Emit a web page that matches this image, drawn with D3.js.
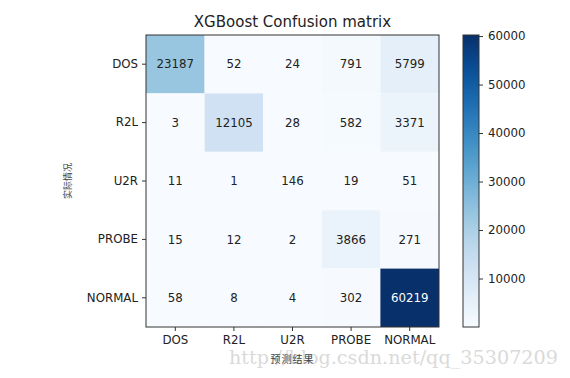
<!DOCTYPE html>
<html>
<head>
<meta charset="utf-8">
<script src="https://cdn.jsdelivr.net/npm/d3@7"></script>
<style>
  body { margin: 0; background: #fff; }
  svg text { font-family: "DejaVu Sans", sans-serif; }
</style>
</head>
<body>
<div class="cm_chart"></div>
<script>
// confusion matrix data
const classes = ["DOS", "R2L", "U2R", "PROBE", "NORMAL"];
const row_DOS = [23187, 52, 24, 791, 5799];
const row_R2L = [3, 12105, 28, 582, 3371];
const row_U2R = [11, 1, 146, 19, 51];
const row_PROBE = [15, 12, 2, 3866, 271];
const row_NORMAL = [58, 8, 4, 302, 60219];
const cbar_ticks = [10000, 20000, 30000, 40000, 50000, 60000];

const WIDTH = 570, HEIGHT = 378;
const M = {left: 146, right: 439, top: 35, bottom: 327};
const CB = {left: 463, right: 479};

const rows = [row_DOS, row_R2L, row_U2R, row_PROBE, row_NORMAL];

let cells = [];
rows.forEach((r, i) => {
	r.forEach((v, j) => {
		cells.push({actual: classes[i], pred: classes[j], value: v});
	});
});

const vmin = d3.min(cells, d => d.value);
const vmax = d3.max(cells, d => d.value);
const thresh = vmax / 2;

const svg = d3.select(".cm_chart")
	.append("svg")
	.attr("width", WIDTH)
	.attr("height", HEIGHT);

const color = d3.scaleSequential(d3.interpolateBlues).domain([vmin, vmax]);

const xScale = d3.scaleBand().domain(classes).range([M.left, M.right]);
const yScale = d3.scaleBand().domain(classes).range([M.top, M.bottom]);

// watermark (blog url)
svg.append("text")
	.text("http://blog.csdn.net/qq_35307209")
	.attr("x", 229)
	.attr("y", 364)
	.attr("textLength", 329)
	.attr("lengthAdjust", "spacingAndGlyphs")
	.style("font-family", "'DejaVu Serif', serif")
	.style("font-size", "19px")
	.attr("fill", "#dadada");

svg.selectAll(".cell")
	.data(cells).enter()
	.append("rect")
	.attr("class", "cell")
	.attr("x", d => xScale(d.pred))
	.attr("y", d => yScale(d.actual))
	.attr("width", xScale.bandwidth())
	.attr("height", yScale.bandwidth())
	.attr("fill", d => color(d.value));

svg.selectAll(".cell_text")
	.data(cells).enter()
	.append("text")
	.attr("class", "cell_text")
	.text(d => d.value)
	.attr("x", d => xScale(d.pred) + xScale.bandwidth() / 2)
	.attr("y", d => yScale(d.actual) + yScale.bandwidth() / 2)
	.attr("dy", "0.35em")
	.style("text-anchor", "middle")
	.style("font-size", "11.8px")
	.attr("fill", d => d.value > thresh ? "#ffffff" : "#222");

// axes
const xAxis = d3.axisBottom(xScale).tickSize(4).tickPadding(5).tickSizeOuter(0);
const yAxis = d3.axisLeft(yScale).tickSize(4).tickPadding(4).tickSizeOuter(0);

const x_axis = svg.append("g")
	.attr("transform", "translate(0," + M.bottom + ")")
	.call(xAxis);
const y_axis = svg.append("g")
	.attr("transform", "translate(" + M.left + ",0)")
	.call(yAxis);

[x_axis, y_axis].forEach(a => {
	a.select(".domain").remove();
	a.selectAll("line").attr("stroke", "#333");
	a.selectAll("text")
		.attr("fill", "#222")
		.style("font-family", "'DejaVu Sans', sans-serif")
		.style("font-size", "11.8px");
});

svg.append("rect")
	.attr("x", M.left)
	.attr("y", M.top)
	.attr("width", M.right - M.left)
	.attr("height", M.bottom - M.top)
	.attr("fill", "none")
	.attr("stroke", "#333")
	.attr("stroke-width", 1);

// title & labels
svg.append("text")
	.text("XGBoost Confusion matrix")
	.attr("x", (M.left + M.right) / 2)
	.attr("y", 27)
	.style("text-anchor", "middle")
	.style("font-size", "15px")
	.attr("fill", "#222");

svg.append("text")
	.text("预测结果")
	.attr("x", (M.left + M.right) / 2)
	.attr("y", 363)
	.style("text-anchor", "middle")
	.style("font-family", "'Noto Sans CJK SC', sans-serif")
	.style("font-size", "10px")
	.style("letter-spacing", "1px")
	.attr("fill", "#444");

svg.append("text")
	.text("实际情况")
	.attr("transform", "translate(71," + (M.top + M.bottom) / 2 + ") rotate(-90)")
	.style("text-anchor", "middle")
	.style("font-family", "'Noto Sans CJK SC', sans-serif")
	.style("font-size", "9px")
	.attr("fill", "#444");

// colorbar
const cScale = d3.scaleLinear().domain([vmin, vmax]).range([M.bottom, M.top]);

const grad = svg.append("defs").append("linearGradient")
	.attr("id", "cbar_grad")
	.attr("x1", 0).attr("y1", 1)
	.attr("x2", 0).attr("y2", 0);
d3.range(0, 1.0001, 0.05).forEach(t => {
	grad.append("stop")
		.attr("offset", t)
		.attr("stop-color", color(vmin + t * (vmax - vmin)));
});

svg.append("rect")
	.attr("x", CB.left)
	.attr("y", M.top)
	.attr("width", CB.right - CB.left)
	.attr("height", M.bottom - M.top)
	.attr("fill", "url(#cbar_grad)")
	.attr("stroke", "#333")
	.attr("stroke-width", 1);

const cAxis = d3.axisRight(cScale)
	.tickValues(cbar_ticks)
	.tickFormat(d3.format("d"))
	.tickSize(4)
	.tickPadding(5);

const c_axis = svg.append("g")
	.attr("transform", "translate(" + CB.right + ",0)")
	.call(cAxis);
c_axis.select(".domain").remove();
c_axis.selectAll("line").attr("stroke", "#333");
c_axis.selectAll("text")
	.attr("fill", "#222")
	.style("font-family", "'DejaVu Sans', sans-serif")
	.style("font-size", "11.8px");
</script>
</body>
</html>
